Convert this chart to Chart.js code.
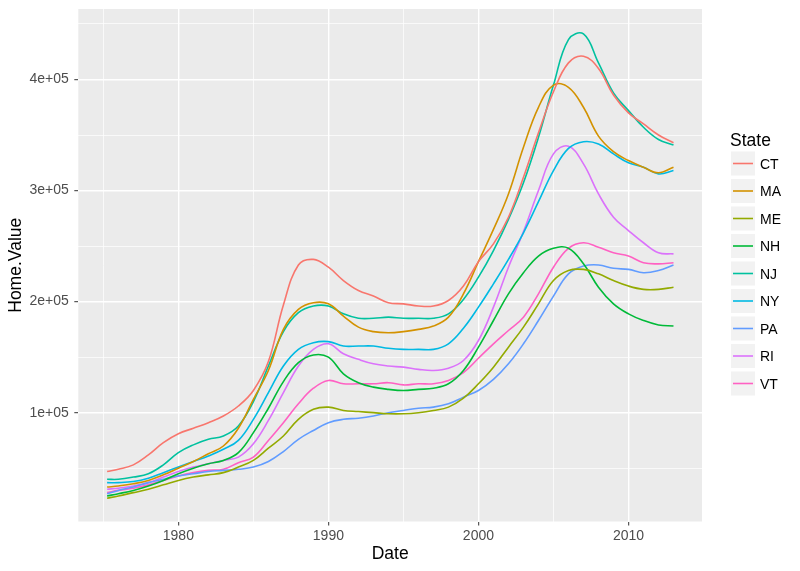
<!DOCTYPE html>
<html>
<head>
<meta charset="utf-8">
<script src="https://cdn.jsdelivr.net/npm/chart.js@4.4.0/dist/chart.umd.min.js"></script>
<style>
  html, body { margin: 0; padding: 0; background: #ffffff; }
  #wrap { width: 800px; height: 571px; }
</style>
</head>
<body>
<div id="wrap"><canvas id="homeChart" width="800" height="571"></canvas></div>
<script>
// years (x) and home values per state, in thousands
const years = [1975.25, 1976, 1977, 1978, 1979, 1980, 1981, 1982, 1983, 1984,
  1985, 1986, 1987, 1988, 1989, 1990, 1991, 1992, 1993, 1994,
  1995, 1996, 1997, 1998, 1999, 2000, 2001, 2002, 2003, 2004,
  2005, 2006, 2007, 2008, 2009, 2010, 2011, 2012, 2013];

const states = ["CT", "MA", "ME", "NH", "NJ", "NY", "PA", "RI", "VT"];
const stateColors = ["#F8766D", "#D39200", "#93AA00", "#00BA38", "#00C19F", "#00B9E3", "#619CFF", "#DB72FB", "#FF61C3"];

const CT = [47, 49, 53, 62, 73, 81, 86, 91, 97, 106, 120, 146, 197, 233, 238, 231, 219, 210, 205, 199, 198, 196, 196, 201, 214, 236, 252, 276, 312, 352, 389, 415, 421, 410, 386, 370, 360, 350, 343];
const MA = [33, 34, 36, 39, 44, 50, 56, 63, 70, 86, 112, 138, 175, 193, 199, 198, 187, 177, 173, 172, 173, 175, 178, 186, 207, 236, 265, 297, 339, 375, 395, 393, 375, 349, 335, 327, 321, 316, 321];
const ME = [23, 25, 28, 31, 35, 39, 42, 44, 46, 51, 57, 68, 79, 94, 103, 105, 102, 101, 100, 99, 99, 100, 102, 105, 113, 126, 141, 159, 177, 198, 219, 228, 229, 225, 219, 214, 211, 211, 213];
const NH = [25, 27, 30, 34, 39, 45, 50, 54, 57, 64, 82, 104, 128, 145, 152, 150, 135, 127, 123, 121, 120, 121, 122, 126, 138, 159, 183, 207, 226, 241, 248, 248, 234, 213, 198, 189, 183, 179, 178];
const NJ = [40, 40, 42, 45, 53, 64, 71, 76, 79, 88, 110, 142, 173, 190, 196, 196, 189, 185, 185, 186, 185, 185, 185, 189, 202, 222, 246, 274, 307, 348, 395, 436, 441, 415, 388, 372, 357, 346, 341];
const NY = [37, 37, 38, 41, 46, 51, 56, 61, 67, 75, 94, 118, 142, 157, 163, 164, 160, 160, 160, 158, 157, 157, 157, 162, 176, 195, 216, 238, 262, 290, 318, 338, 344, 342, 333, 325, 321, 315, 318];
const PA = [27, 30, 33, 37, 40, 43, 45, 47, 48, 49, 51, 56, 65, 76, 84, 91, 94, 95, 97, 100, 102, 104, 105, 108, 114, 120, 130, 144, 162, 183, 205, 225, 232, 233, 230, 229, 226, 228, 233];
const RI = [31, 32, 34, 37, 42, 47, 51, 54, 57, 60, 72, 93, 118, 142, 157, 162, 153, 148, 144, 142, 141, 139, 138, 140, 147, 165, 195, 231, 263, 300, 333, 340, 324, 297, 276, 264, 253, 244, 243];
const VT = [28, 30, 32, 35, 39, 43, 46, 48, 49, 55, 60, 75, 91, 108, 122, 129, 126, 126, 126, 127, 125, 126, 126, 129, 136, 149, 162, 174, 186, 207, 231, 248, 253, 249, 244, 241, 235, 234, 235];
const seriesValues = [CT, MA, ME, NH, NJ, NY, PA, RI, VT];

// axis ticks
const xMajor = [1980, 1990, 2000, 2010];
const xGrid = [1975, 1980, 1985, 1990, 1995, 2000, 2005, 2010];
const yMajor = [100000, 200000, 300000, 400000];
const yTickLabels = ["1e+05", "2e+05", "3e+05", "4e+05"];
const yGrid = [50000, 100000, 150000, 200000, 250000, 300000, 350000, 400000, 450000];

const FONT = "'Liberation Sans', Arial, sans-serif";

const datasets = states.map((st, i) => ({
  label: st,
  data: years.map((yr, j) => ({ x: yr, y: seriesValues[i][j] * 1000 })),
  borderColor: stateColors[i],
  backgroundColor: stateColors[i],
  borderWidth: 1.6,
  pointRadius: 0,
  fill: false,
  tension: 0.4
}));

// no extra label padding, the panel fills the layout box
const noPad = (s) => {
  s.paddingTop = 0;
  s.paddingBottom = 0;
  s.paddingLeft = 0;
  s.paddingRight = 0;
};

// ggplot-ish panel background + legend
const ggPanel = {
  id: "ggPanel",
  beforeDraw(chart) {
    const { ctx, chartArea: a } = chart;
    ctx.save();
    ctx.fillStyle = "#ffffff";
    ctx.fillRect(0, 0, chart.width, chart.height);
    ctx.fillStyle = "#EBEBEB";
    ctx.fillRect(a.left, a.top, a.right - a.left, a.bottom - a.top);
    ctx.restore();
  },
  afterDraw(chart) {
    const ctx = chart.ctx;
    ctx.save();
    ctx.fillStyle = "#000000";
    ctx.font = "17.5px " + FONT;
    ctx.textBaseline = "alphabetic";
    ctx.fillText("State", 730, 146);
    ctx.font = "14px " + FONT;
    states.forEach((st, i) => {
      const cy = 163.5 + 27.5 * i;
      ctx.fillStyle = "#F2F2F2";
      ctx.fillRect(731, cy - 12, 24, 24);
      ctx.strokeStyle = stateColors[i];
      ctx.lineWidth = 1.6;
      ctx.beginPath();
      ctx.moveTo(733, cy);
      ctx.lineTo(753, cy);
      ctx.stroke();
      ctx.fillStyle = "#000000";
      ctx.fillText(st, 760, cy + 5);
    });
    ctx.restore();
  }
};

new Chart(document.getElementById("homeChart"), {
  type: "line",
  data: { datasets: datasets },
  options: {
    responsive: false,
    animation: false,
    layout: { padding: { top: 9, right: 98, left: 0, bottom: 0 } },
    plugins: { legend: { display: false }, tooltip: { enabled: false } },
    scales: {
      x: {
        type: "linear",
        min: 1973.33,
        max: 2014.9,
        afterBuildTicks: (s) => { s.ticks = xGrid.map(v => ({ value: v })); },
        afterFit: (s) => { s.height = 49.5; noPad(s); },
        border: { display: false },
        grid: {
          color: "#FFFFFF",
          lineWidth: (c) => xMajor.includes(c.tick && c.tick.value) ? 1.4 : 0.7,
          tickColor: (c) => xMajor.includes(c.tick && c.tick.value) ? "#333333" : "rgba(0,0,0,0)",
          tickWidth: 1,
          tickLength: 4
        },
        ticks: {
          autoSkip: false,
          maxRotation: 0,
          padding: 2,
          color: "#4D4D4D",
          font: { family: FONT, size: 14 },
          callback: (v) => xMajor.includes(v) ? String(v) : ""
        },
        title: {
          display: true,
          text: "Date",
          color: "#000000",
          font: { family: FONT, size: 17.5 },
          padding: { top: 0, bottom: 6 }
        }
      },
      y: {
        type: "linear",
        min: 2000,
        max: 463500,
        afterBuildTicks: (s) => { s.ticks = yGrid.map(v => ({ value: v })); },
        afterFit: (s) => { s.width = 78.3; noPad(s); },
        border: { display: false },
        grid: {
          color: "#FFFFFF",
          lineWidth: (c) => yMajor.includes(c.tick && c.tick.value) ? 1.4 : 0.7,
          tickColor: (c) => yMajor.includes(c.tick && c.tick.value) ? "#333333" : "rgba(0,0,0,0)",
          tickWidth: 1,
          tickLength: 4
        },
        ticks: {
          autoSkip: false,
          padding: 5.5,
          color: "#4D4D4D",
          font: { family: FONT, size: 14 },
          callback: (v) => {
            const k = yMajor.indexOf(v);
            return k >= 0 ? yTickLabels[k] : "";
          }
        },
        title: {
          display: true,
          text: "Home.Value",
          color: "#000000",
          font: { family: FONT, size: 17.5 },
          padding: { top: 6, bottom: 0 }
        }
      }
    }
  },
  plugins: [ggPanel]
});
</script>
</body>
</html>
